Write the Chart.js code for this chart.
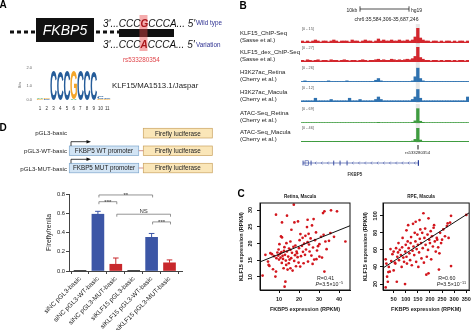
<!DOCTYPE html>
<html>
<head>
<meta charset="utf-8">
<script src="https://cdn.jsdelivr.net/npm/chart.js@4.4.1/dist/chart.umd.min.js"></script>
<style>
html,body{margin:0;padding:0;background:#fff;}
#wrap{position:relative;width:474px;height:330px;overflow:hidden;background:#fff;}
#wrap canvas{position:absolute;}
#ov{position:absolute;left:0;top:0;}
</style>
</head>
<body>
<div id="wrap">
<canvas id="t0" width="168" height="20" style="left:301px;top:24px"></canvas>
<canvas id="t1" width="168" height="20" style="left:301px;top:43px"></canvas>
<canvas id="t2" width="168" height="20" style="left:301px;top:63px"></canvas>
<canvas id="t3" width="168" height="20" style="left:301px;top:83px"></canvas>
<canvas id="t4" width="168" height="20" style="left:301px;top:104px"></canvas>
<canvas id="t5" width="168" height="20" style="left:301px;top:123px"></canvas>
<canvas id="barD" width="172" height="144" style="left:20px;top:186px"></canvas>
<canvas id="scL" width="117" height="130" style="left:237px;top:188px"></canvas>
<canvas id="scR" width="120" height="130" style="left:354px;top:188px"></canvas>
<svg id="ov" width="474" height="330" font-family="Liberation Sans, Arial, sans-serif">
 <text x="-0.5" y="7.5" font-size="10" font-weight="bold">A</text>
 <text x="239.5" y="8.5" font-size="10" font-weight="bold">B</text>
 <text x="237.5" y="197" font-size="10" font-weight="bold">C</text>
 <text x="-0.5" y="130.5" font-size="10" font-weight="bold">D</text>
 <!-- Panel A schematic -->
 <line x1="10" y1="32" x2="36" y2="32" stroke="#111" stroke-width="3" stroke-dasharray="4 3"/>
 <line x1="96" y1="32" x2="119" y2="32" stroke="#111" stroke-width="3" stroke-dasharray="4 3"/>
 <rect x="36" y="18" width="58" height="24" fill="#111"/>
 <text x="65" y="35" font-size="14" font-style="italic" fill="#fff" text-anchor="middle">FKBP5</text>
 <rect x="119" y="29" width="55" height="8" fill="#111"/>
 <rect x="139.5" y="15" width="8" height="36" fill="#e8474a" fill-opacity="0.45"/>
 <text x="103" y="26.5" font-size="10" font-style="italic" fill="#111">3'...CCC<tspan fill="#a8161b" font-weight="bold">G</tspan>CCCA... 5'</text>
 <text x="103" y="48" font-size="10" font-style="italic" fill="#111">3'...CCC<tspan fill="#a8161b" font-weight="bold">A</tspan>CCCA... 5'</text>
 <text x="196" y="25" font-size="6.3" fill="#2e3192">Wild type</text>
 <text x="196" y="47" font-size="6.3" fill="#2e3192">Variation</text>
 <text x="123" y="61.5" font-size="6.3" fill="#e0474c">rs533280354</text>
 <text x="32" y="68.5" font-size="4" fill="#666" text-anchor="end">2.0</text>
 <text x="32" y="86.5" font-size="4" fill="#666" text-anchor="end">1.0</text>
 <text x="32" y="101" font-size="4" fill="#666" text-anchor="end">0.0</text>
 <text transform="translate(21.2,85) rotate(-90)" font-size="3.6" fill="#666" text-anchor="middle">Bits</text>
 <text x="112" y="88" font-size="7.8" fill="#222">KLF15/MA1513.1/Jaspar</text>
 <!-- Panel B decorations -->
 <text x="346.5" y="11.5" font-size="5" fill="#222">10kb</text>
 <line x1="360" y1="9" x2="409" y2="9" stroke="#222" stroke-width="0.8"/>
 <line x1="360" y1="6.3" x2="360" y2="11.7" stroke="#222" stroke-width="0.8"/>
 <line x1="409" y1="6.3" x2="409" y2="11.7" stroke="#222" stroke-width="0.8"/>
 <text x="411" y="11.5" font-size="5" fill="#222">hg19</text>
 <text x="386.5" y="21" font-size="5.1" fill="#222" text-anchor="middle">chr6:35,584,306-35,687,246</text>
 <line x1="418" y1="145" x2="418" y2="149.5" stroke="#111" stroke-width="1"/>
 <text x="417.5" y="153.8" font-size="4.3" fill="#222" text-anchor="middle">rs533280354</text>
 <g id="gene"></g>
 <text x="355" y="176" font-size="4.5" font-weight="bold" fill="#333" text-anchor="middle">FKBP5</text>
 <!-- Panel D constructs -->
 <g font-size="6.2" fill="#222">
  <text x="67" y="134.5" text-anchor="end">pGL3-basic</text>
  <text x="67" y="152.5" text-anchor="end">pGL3-WT-basic</text>
  <text x="67" y="170.5" text-anchor="end">pGL3-MUT-basic</text>
 </g>
 <g fill="#fae6b8" stroke="#c9a25e" stroke-width="0.7">
  <rect x="143.3" y="128.3" width="69" height="9.7"/>
  <rect x="143.3" y="146" width="69" height="9.5"/>
  <rect x="143.3" y="163.3" width="69" height="9.5"/>
 </g>
 <g fill="#d2e4f4" stroke="#7ea6cc" stroke-width="0.7">
  <rect x="69.3" y="146" width="69.4" height="9.5"/>
  <rect x="69.3" y="163.3" width="69.4" height="9.5"/>
 </g>
 <line x1="138.7" y1="150.7" x2="143.3" y2="150.7" stroke="#c0645a" stroke-width="0.7"/>
 <line x1="138.7" y1="168" x2="143.3" y2="168" stroke="#c0645a" stroke-width="0.7"/>
 <g font-size="6.3" fill="#222" text-anchor="middle">
  <text x="177.8" y="135.5">Firefly luciferase</text>
  <text x="177.8" y="153">Firefly luciferase</text>
  <text x="177.8" y="170.3">Firefly luciferase</text>
  <text x="104" y="153">FKBP5 WT promoter</text>
  <text x="104" y="170.3">FKBP5 MUT promoter</text>
 </g>
 <path d="M71 146 V141.7 H87.5" fill="none" stroke="#111" stroke-width="0.8"/>
 <polygon points="86.5,140 91,141.7 86.5,143.4" fill="#111"/>
 <path d="M71 163.3 V159.3 H87.5" fill="none" stroke="#111" stroke-width="0.8"/>
 <polygon points="86.5,157.6 91,159.3 86.5,161" fill="#111"/>
</svg>
</div>
<script>
const F = "'Liberation Sans', Arial, Helvetica, sans-serif";
Chart.defaults.font.family = F;
Chart.defaults.color = '#222';

// ================= DATA =================
// Panel A: sequence logo (bits per letter, bottom to top)
const logoPositions = [1,2,3,4,5,6,7,8,9,10,11];
const logoStacks = [
  [['G',0.05],['A',0.1]],
  [['C',0.05],['G',0.1]],
  [['C',1.92]],
  [['C',1.88]],
  [['C',1.92]],
  [['A',0.06],['G',1.82]],
  [['C',1.92]],
  [['C',1.9]],
  [['C',1.86]],
  [['G',0.05],['C',0.12]],
  [['G',0.04],['C',0.1]]
];

// Panel B: signal tracks (64 bins each)
const trackNames = ['KLF15_ChIP-Seq','KLF15_dex_ChIP-Seq','H3K27ac_Retina','H3K27ac_Macula','ATAC-Seq_Retina','ATAC-Seq_Macula'];
const trackSources = ['(Sasse et al.)','(Sasse et al.)','(Cherry et al.)','(Cherry et al.)','(Cherry et al.)','(Cherry et al.)'];
const trackMax = [15,27,26,12,69,46];
const track1 = [2,1,2,1,2,3,2,1,2,2, 1,2,3,2,1,2,2,2,1,3, 2,2,1,2,3,2,2,1,2,4, 2,3,2,2,3,2,2,3,2,2, 3,2,3,6,15,5,3,2,2,1, 2,2,1,2,1,2,2,1,2,1, 2,2,1,2];
const track2 = [3,2,4,3,2,3,4,2,3,3, 2,4,3,3,2,3,4,3,2,3, 3,2,3,4,3,2,3,3,4,5, 3,4,3,3,5,4,3,4,3,4, 5,4,6,10,27,8,5,3,3,2, 3,3,2,3,2,3,3,2,3,2, 3,3,2,3];
const track3 = [1,2,1,1,1,1,1,1,1,1, 2,1,1,1,1,1,1,2,1,1, 1,1,1,1,1,1,1,1,3,6, 2,1,1,1,1,1,1,1,1,1, 1,1,2,9,24,6,2,1,1,1, 1,1,1,1,1,1,1,1,1,1, 1,1,1,1];
const track4 = [1,1,1,1,1,3,1,1,1,1, 1,2,1,1,1,1,1,1,3,1, 1,1,2,1,1,1,1,1,2,4, 2,1,1,1,1,1,1,1,1,1, 1,1,2,4,10,3,1,1,1,1, 1,1,1,1,1,1,1,1,1,1, 1,1,1,4];
const track5 = [2,2,2,2,2,2,2,2,2,2, 2,2,2,2,2,2,2,2,2,2, 2,2,2,2,2,2,2,2,2,3, 2,2,2,2,2,2,2,2,2,2, 2,2,3,10,66,8,3,2,2,2, 2,2,2,2,2,2,2,2,2,2, 2,2,2,2];
const track6 = [2,2,2,2,2,2,2,2,2,2, 2,2,2,2,2,2,2,2,2,2, 2,2,2,2,2,2,2,2,2,2, 2,2,2,2,2,2,2,2,2,2, 2,2,3,8,42,6,2,2,2,2, 2,2,2,2,2,2,2,2,2,2, 2,2,2,2];
const highlightBin = 44;

// Panel C: scatter data [FKBP5, KLF15] in RPKM
const retinaPoints = [
[1.8,10.4],[3.2,16.6],[4.5,14.6],[4.8,13.6],[5.2,13.3],[5.7,17.1],[6.5,16.8],[7,12.3],[7.5,16.2],[8.2,10.1],
[8.5,11.6],[8.5,28.6],[8.7,15.6],[9.2,17.3],[9.6,16.4],[9.8,18.2],[10,15.2],[10.2,19.8],[10.5,16.9],[10.8,15.8],
[11,22.1],[11.2,17.4],[11.4,14.2],[11.5,21.8],[11.5,26.3],[11.8,16.3],[12,15.4],[12.3,12.6],[12.5,17.8],[12.7,18.9],
[12.8,7.1],[13,16.6],[13.2,8.6],[13.4,14.9],[13.6,13.6],[13.7,20.1],[14,28.3],[14,17.6],[14.3,12.2],[14.6,16.1],
[14.9,14.1],[15,18.5],[15.3,15.2],[15.7,20.6],[15.7,12.6],[15.7,18.1],[16.1,15.6],[16.2,24.1],[16.5,17.2],[16.8,11.9],
[17.2,19],[17.4,31.6],[17.6,14.8],[17.7,26.3],[18,16.5],[18.2,19.4],[18.5,13.2],[18.8,17.6],[19,17.1],[19.3,15.9],
[19.5,26.6],[19.8,14.3],[20,18.6],[20.3,21],[20.6,13.1],[20.7,22.8],[21,16.2],[21.5,19.3],[21.8,21.7],[22,17.5],
[22.3,14.1],[22.6,20],[23,16.6],[23.2,22.3],[23.5,18.2],[24,24.9],[24.3,20.4],[24.3,27.1],[24.5,14.6],[24.8,22.9],
[25,19.7],[25.3,17.6],[25.8,21.5],[26.2,16.4],[26.5,25.4],[26.8,13.9],[27,18.8],[27.3,27.3],[27.6,15.2],[28,21],
[28.5,23.3],[28.7,15.3],[29,17.9],[29.5,19.2],[30.2,19.8],[30.2,16.1],[31,22],[31.5,15.8],[32,29.1],[32.3,22.6],
[32.7,29.6],[32.7,11.6],[33.2,20.6],[33.8,18.3],[35,20.8],[35.7,23.1],[36,29.9],[37.5,22],[39,29.6],[43.2,20.6]
];
const rpePoints = [
[17,16],[17,49],[20,44],[23,28.6],[26,22.7],[28,34],[30,40],[34,34.5],[37,61],[40,47],
[45,55],[50,58],[50,36],[55,45],[57,44],[60,62],[63,22.7],[65,52],[68,57],[70,68],
[72,48],[75,60],[80,54],[83,40],[85,63],[87,74],[90,51],[93,46],[97,20],[98,58],
[100,66],[103,83],[103,52],[105,44],[108,70],[110,89],[112,62],[115,56],[118,48],[120,68],
[122,75],[125,42],[128,59],[130,90.6],[132,64],[135,54],[137,80],[140,70],[141,93],[143,46],
[145,61],[148,78],[150,66],[152,40],[155,57],[157,95],[158,73],[160,84],[163,68],[165,50],
[168,80],[170,62],[173,103],[175,45],[177,74],[180,85],[182,66],[185,31],[187,52],[190,78],
[192,60],[194,97],[194,32.5],[197,72],[200,68],[203,82],[205,49],[208,76],[212,64],[215,86],
[217,89],[220,70],[224,58],[228,74],[230,72],[234,63],[237,37],[239,56],[242,80],[246,68],
[250,72],[255,84],[262,76],[270,88],[273,91],[277,74],[283,92],[287,100],[287,41],[350,101]
];
const retinaFitX = [0.5, 45.5], retinaFitY = [14.5, 25.3];
const rpeFitX = [6, 362], rpeFitY = [38.8, 103.5];
const retinaXTicks = [10,20,30,40], retinaYTicks = [10,15,20,25,30];
const rpeXTicks = [50,100,150,200,250,300,350], rpeYTicks = [20,40,60,80,100];

// Panel D: luciferase ratio
const groups = ['siNC pGL3-basic','siNC pGL3-WT-basic','siNC pGL3-MUT-basic','siKLF15 pGL3-basic','siKLF15 pGL3-WT-basic','siKLF15 pGL3-MUT-basic'];
const ratio = [0.003, 0.59, 0.07, 0.003, 0.35, 0.085];
const ratioErr = [0, 0.03, 0.065, 0, 0.04, 0.03];
const ratioTicks = [0, 0.2, 0.4, 0.6, 0.8];
const sigPairs = [
  {a:1, b:2, y:0.72, t:'***'},
  {a:1, b:4, y:0.79, t:'**'},
  {a:2, b:5, y:0.59, t:'NS'},
  {a:4, b:5, y:0.51, t:'***'}
];

// ================= STYLE =================
const barColors = ['#222','#3c56a6','#c8282c','#222','#3c56a6','#c8282c'];
const trackColors = ['#d3262d','#d3262d','#2f72b0','#2f72b0','#3f9c40','#3f9c40'];
const logoColors = {A:'#109648', C:'#255c99', G:'#f4a62a', T:'#d62839'};

// ================= SVG helpers =================
const NS = 'http://www.w3.org/2000/svg';
const ov = document.getElementById('ov');
function svgEl(tag, attrs, parent){ const e=document.createElementNS(NS,tag); for(const k in attrs) e.setAttribute(k, attrs[k]); (parent||ov).appendChild(e); return e; }
function svgText(x,y,txt,attrs){ const t=svgEl('text', Object.assign({x:x,y:y}, attrs)); t.textContent=txt; return t; }

// Sequence logo
const logoBase = 100, logoBitPx = 16.3, logoX0 = 40, logoDx = 6.73;
logoStacks.forEach((stack,i)=>{
  let yb = logoBase; const cx = logoX0 + i*logoDx;
  stack.forEach(([L,bits])=>{
    const h = bits*logoBitPx;
    svgText(0,0,L,{'font-size':10,'font-weight':'bold','text-anchor':'middle',fill:logoColors[L],
      transform:`translate(${cx},${yb}) scale(${6.4/6.6},${h/7.4})`});
    yb -= h;
  });
  svgText(cx,109.5,String(logoPositions[i]),{'font-size':4.5,'text-anchor':'middle',fill:'#333'});
});

// Track labels
const trackBase = [43,62,82,102,123,142];
trackNames.forEach((n,i)=>{
  const b = trackBase[i];
  svgText(240, b-8, n, {'font-size':6, fill:'#222'});
  svgText(240, b-1.3, trackSources[i], {'font-size':6, fill:'#222'});
  svgText(302, b-13, `[0 - ${trackMax[i]}]`, {'font-size':3.8, fill:'#555'});
});

// Gene model
(function(){
  const g = document.getElementById('gene'); const c='#2a3f9a';
  svgEl('line',{x1:303,y1:163,x2:418.5,y2:163,stroke:c,'stroke-width':0.6},g);
  [302.6,310.6,333.3,339.6,346.6].forEach(x=>svgEl('rect',{x:x,y:160.6,width:0.9,height:4.8,fill:c},g));
  svgEl('rect',{x:305,y:160.8,width:3.6,height:4.4,fill:'none',stroke:c,'stroke-width':0.6},g);
  svgEl('rect',{x:417.8,y:160.2,width:1.2,height:5.6,fill:c},g);
  for(let x=315; x<415; x+=6.2){ if(Math.abs(x-333.5)<2||Math.abs(x-340)<2||Math.abs(x-347)<2) continue;
    svgEl('polyline',{points:`${x+1.3},161.6 ${x},163 ${x+1.3},164.4`,fill:'none',stroke:c,'stroke-width':0.5},g); }
})();

// ================= CHARTS =================
const bandPlugin = {id:'band', beforeDatasetsDraw(c){
  const x = c.scales.x.getPixelForValue(highlightBin);
  c.ctx.save(); c.ctx.fillStyle='rgba(185,185,185,0.35)'; c.ctx.fillRect(x-2,0,4,c.height); c.ctx.restore();
}};
const tracks = [track1,track2,track3,track4,track5,track6];
tracks.forEach((vals,i)=>{
  new Chart(document.getElementById('t'+i), {
    type:'bar',
    data:{labels: vals.map((_,k)=>k), datasets:[{data: vals, backgroundColor: trackColors[i], borderWidth:0, barPercentage:1, categoryPercentage:1}]},
    options:{responsive:false, animation:false, events:[],
      layout:{padding:{top:4,bottom:1,left:0,right:0}},
      plugins:{legend:{display:false}, tooltip:{enabled:false}},
      scales:{x:{display:false}, y:{display:false, min:0, max:trackMax[i]}}},
    plugins:[bandPlugin]
  });
});

// Panel D bar chart
const barDeco = {id:'barDeco', afterDatasetsDraw(c){
  const {ctx, chartArea:a, scales:{x,y}} = c; const meta = c.getDatasetMeta(0);
  ctx.save();
  ratio.forEach((v,i)=>{
    if(!ratioErr[i]) return;
    const bx = meta.data[i].x, y0 = y.getPixelForValue(v), y1 = y.getPixelForValue(v+ratioErr[i]);
    ctx.strokeStyle = barColors[i]; ctx.lineWidth = 1;
    ctx.beginPath(); ctx.moveTo(bx,y0); ctx.lineTo(bx,y1); ctx.moveTo(bx-2.8,y1); ctx.lineTo(bx+2.8,y1); ctx.stroke();
  });
  ctx.strokeStyle='#666'; ctx.lineWidth=0.7; ctx.fillStyle='#333'; ctx.textAlign='center'; ctx.font=`6px ${F}`;
  sigPairs.forEach(p=>{
    const x1 = x.getPixelForValue(p.a)+1, x2 = x.getPixelForValue(p.b)+1, yy = y.getPixelForValue(p.y);
    ctx.beginPath(); ctx.moveTo(x1,yy+2.5); ctx.lineTo(x1,yy); ctx.lineTo(x2,yy); ctx.lineTo(x2,yy+2.5); ctx.stroke();
    ctx.fillText(p.t, (x1+x2)/2, p.t.includes('*') ? yy+2 : yy-0.8);
  });
  ctx.fillStyle='#222'; ctx.font=`6.8px ${F}`; ctx.textBaseline='middle';
  ctx.translate(a.left-20, (a.top+a.bottom)/2); ctx.rotate(-Math.PI/2); ctx.fillText('Firefly/renila',0,0);
  ctx.restore();
}};
new Chart(document.getElementById('barD'), {
  type:'bar',
  data:{datasets:[{data: ratio.map((v,i)=>({x:i, y:v})), backgroundColor: barColors, borderWidth:0, barThickness:12}]},
  options:{responsive:false, animation:false, events:[],
    layout:{padding:{top:8, right:10, left:0, bottom:0}},
    plugins:{legend:{display:false}, tooltip:{enabled:false}},
    scales:{
      x:{type:'linear', min:-0.615, max:5.698, offset:false,
        afterBuildTicks:s=>{ s.ticks = groups.map((_,i)=>({value:i})); },
        grid:{display:true, drawOnChartArea:false, drawTicks:true, tickLength:3, color:'#444'},
        border:{display:true, color:'#444', width:1},
        ticks:{autoSkip:false, maxRotation:45, minRotation:45, padding:1, color:'#222', font:{size:6.5}, callback:v=>groups[Math.round(v)]},
        afterFit:s=>{ s.height = 59; }},
      y:{min:0, max:0.8,
        afterBuildTicks:s=>{ s.ticks = ratioTicks.map(v=>({value:v})); },
        grid:{display:true, drawOnChartArea:false, drawTicks:true, tickLength:3, color:'#444'},
        border:{display:true, color:'#444', width:1},
        ticks:{padding:1, color:'#222', font:{size:5.8}, callback:v=>v.toFixed(1)},
        afterFit:s=>{ s.width = 49; }}
    }},
  plugins:[barDeco]
});

// Panel C scatter plots
function scatterPanel(id, pts, fx, fy, xr, yr, xt, yt, cfg){
  const deco = {id:'deco'+id, afterDraw(c){
    const {ctx, chartArea:a, scales:{y}} = c;
    ctx.save();
    ctx.strokeStyle='#111'; ctx.lineWidth=1; ctx.strokeRect(a.left, a.top, a.right-a.left, a.bottom-a.top);
    ctx.fillStyle='#222'; ctx.textAlign='center'; ctx.textBaseline='middle'; ctx.font=`bold 5.5px ${F}`;
    yt.forEach(v=>{ const py=y.getPixelForValue(v); ctx.save(); ctx.translate(a.left-cfg.ylab, py); ctx.rotate(-Math.PI/2); ctx.fillText(String(v),0,0); ctx.restore(); });
    ctx.save(); ctx.translate(a.left-cfg.ytit, (a.top+a.bottom)/2); ctx.rotate(-Math.PI/2); ctx.fillText('KLF15 expression (RPKM)',0,0); ctx.restore();
    ctx.textBaseline='alphabetic';
    ctx.fillText('FKBP5 expression (RPKM)', (a.left+a.right)/2, a.bottom+21);
    ctx.font=`bold 4.6px ${F}`; ctx.fillText(cfg.title, (a.left+a.right)/2-5, 10);
    // stats
    ctx.textAlign='left'; ctx.font=`5.3px ${F}`;
    const sx = a.right-cfg.rx, sy = a.bottom-10;
    ctx.fillText('R='+cfg.r, sx, sy);
    let px = sx-1.5; const py2 = sy+6;
    ctx.font=`italic 5.3px ${F}`; ctx.fillText('P',px,py2); px += ctx.measureText('P').width;
    ctx.font=`5.3px ${F}`; const s='=3.5\u00d710'; ctx.fillText(s,px,py2); px += ctx.measureText(s).width;
    ctx.font=`3.8px ${F}`; ctx.fillText('\u2212'+cfg.pe, px+0.2, py2-2.4);
    ctx.restore();
  }};
  new Chart(document.getElementById(id), {
    type:'scatter',
    data:{datasets:[
      {data: pts.map(p=>({x:p[0], y:p[1]})), pointRadius:1.35, pointBackgroundColor:'#d3161d', pointBorderWidth:0, order:2},
      {type:'line', data: fx.map((x,i)=>({x:x, y:fy[i]})), borderColor:'#111', borderWidth:1, pointRadius:0, order:1}
    ]},
    options:{responsive:false, animation:false, events:[],
      layout:{padding:{top:15, right:cfg.pr, left:0, bottom:0}},
      plugins:{legend:{display:false}, tooltip:{enabled:false}},
      scales:{
        x:{type:'linear', min:xr[0], max:xr[1],
          afterBuildTicks:s=>{ s.ticks = xt.map(v=>({value:v})); },
          grid:{display:true, drawOnChartArea:false, tickLength:3, color:'#111'},
          border:{display:true, color:'#111'},
          ticks:{autoSkip:false, maxRotation:0, padding:3, color:'#222', font:{size:5.5, weight:'bold'}},
          afterFit:s=>{ s.height = 28; }},
        y:{type:'linear', min:yr[0], max:yr[1],
          afterBuildTicks:s=>{ s.ticks = yt.map(v=>({value:v})); },
          grid:{display:true, drawOnChartArea:false, tickLength:3, color:'#111'},
          border:{display:true, color:'#111'},
          ticks:{display:false},
          afterFit:s=>{ s.width = cfg.yw; }}
      }},
    plugins:[deco]
  });
}
scatterPanel('scL', retinaPoints, retinaFitX, retinaFitY, [0.5,45.5], [6.1,32.1], retinaXTicks, retinaYTicks,
  {title:'Retina, Macula', r:'0.41', pe:'5', ylab:9.7, ytit:19, rx:33, pr:4, yw:23});
scatterPanel('scR', rpePoints, rpeFitX, rpeFitY, [6,362], [13,115], rpeXTicks, rpeYTicks,
  {title:'RPE, Macula', r:'0.60', pe:'11', ylab:8, ytit:17.5, rx:31, pr:1, yw:29});
</script>
</body>
</html>
